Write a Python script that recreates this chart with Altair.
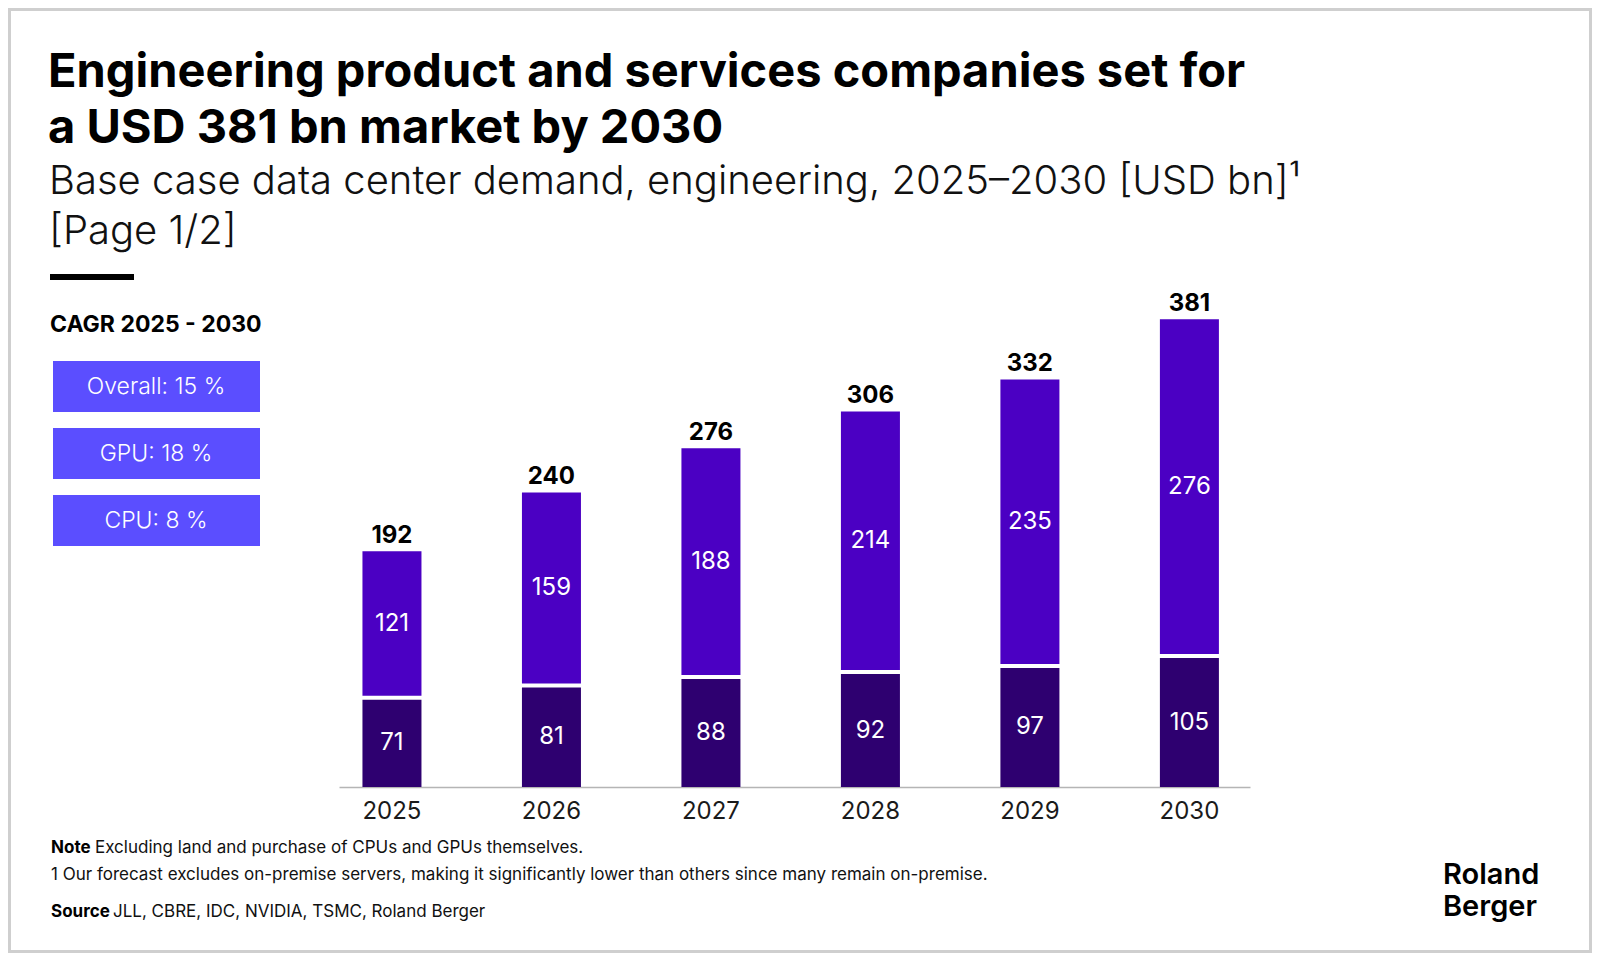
import altair as alt
import pandas as pd

# ---------------- data ----------------
years = ["2025", "2026", "2027", "2028", "2029", "2030"]
cpu = [71, 81, 88, 92, 97, 105]
gpu = [121, 159, 188, 214, 235, 276]
totals = [192, 240, 276, 306, 332, 381]

title_lines = ["Engineering product and services companies set for",
               "a USD 381 bn market by 2030"]
subtitle_lines = ["Base case data center demand, engineering, 2025\u20132030 [USD bn]\u00b9",
                  "[Page 1/2]"]
cagr_heading = ["CAGR 2025 - 2030"]
cagr_labels = ["Overall: 15 %", "GPU: 18 %", "CPU: 8 %"]
note_bold = ["Note", "Source"]
note_text = ["Excluding land and purchase of CPUs and GPUs themselves.",
             "JLL, CBRE, IDC, NVIDIA, TSMC, Roland Berger"]
footnote = ["1 Our forecast excludes on-premise servers, making it significantly lower than others since many remain on-premise."]
logo_lines = ["Roland", "Berger"]

# ---------------- style ----------------
FONT = "Inter"
CPU_C = "#2E0070"
GPU_C = "#4B00C3"
BOX_C = "#5B4EFF"
W, H = 911, 491
PL, PT = 331, 288           # plot origin inside the chart
TOTAL_W, TOTAL_H = 1584, 945

df = pd.DataFrame({"year": years, "cpu": cpu, "gpu": gpu, "total": totals})
df["cpu_mid"] = df["cpu"] / 2
df["gpu_mid"] = df["cpu"] + df["gpu"] / 2

xenc = alt.X("year:N",
             scale=alt.Scale(paddingInner=0.63, paddingOuter=0.171, align=0.43),
             axis=alt.Axis(title=None, labelAngle=0, labelFontSize=24, labelFont=FONT,
                           labelColor="#1a1a1a", labelPadding=12, ticks=False,
                           domainColor="#b5b5b5", domainWidth=1.5, grid=False))
yscale = alt.Scale(domain=[0, 400])

base = alt.Chart(df)
cpu_bar = base.mark_bar(color=CPU_C).encode(
    x=xenc, y=alt.Y("cpu:Q", scale=yscale, axis=None))
gpu_bar = base.mark_bar(color=GPU_C, y2Offset=-4).encode(
    x=xenc, y=alt.Y("total:Q", scale=yscale, axis=None), y2="cpu:Q")
cpu_txt = base.mark_text(color="white", font=FONT, fontSize=24, baseline="middle").encode(
    x=xenc, y=alt.Y("cpu_mid:Q", scale=yscale), text="cpu:Q")
gpu_txt = base.mark_text(color="white", font=FONT, fontSize=24, baseline="middle", dy=-2).encode(
    x=xenc, y=alt.Y("gpu_mid:Q", scale=yscale), text="gpu:Q")
tot_txt = base.mark_text(color="#000000", font=FONT, fontSize=24, fontWeight="bold",
                         baseline="alphabetic", dy=-8).encode(
    x=xenc, y=alt.Y("total:Q", scale=yscale), text="total:Q")


def px(X):   # page x -> plot x
    return X - 8 - PL


def py(Y):   # page y -> plot y
    return Y - 8 - PT


def text_layer(lines, X, Y, step, **kw):
    d = pd.DataFrame({"t": lines, "i": list(range(len(lines)))})
    return alt.Chart(d).transform_calculate(
        yy=f"{py(Y)} + datum.i * {step}"
    ).mark_text(align="left", baseline="alphabetic", font=FONT, **kw).encode(
        x=alt.value(px(X)), y=alt.Y("yy:Q", scale=None), text="t:N")


title_l = text_layer(title_lines, 48, 87, 56, fontSize=47, fontWeight="bold", color="#000000")
sub_l = text_layer(subtitle_lines, 49, 194, 50, fontSize=40, fontWeight=300, color="#111111")

bar_dec = alt.Chart(pd.DataFrame({"a": [0]})).mark_rect(color="#000000").encode(
    x=alt.value(px(50)), x2=alt.value(px(134)), y=alt.value(py(274)), y2=alt.value(py(280)))

cagr_h = text_layer(cagr_heading, 50, 332, 0, fontSize=23, fontWeight="bold", color="#000000")

box_df = pd.DataFrame({"t": cagr_labels, "i": list(range(len(cagr_labels)))})
boxes = alt.Chart(box_df).transform_calculate(
    y0=f"{py(361)} + datum.i * 67", y1=f"{py(412)} + datum.i * 67"
).mark_rect(color=BOX_C).encode(
    x=alt.value(px(53)), x2=alt.value(px(260)),
    y=alt.Y("y0:Q", scale=None), y2="y1:Q")
box_txt = alt.Chart(box_df).transform_calculate(
    yy=f"{py(387)} + datum.i * 67"
).mark_text(color="white", font=FONT, fontSize=23, fontWeight=300, baseline="middle", align="center").encode(
    x=alt.value(px(156)), y=alt.Y("yy:Q", scale=None), text="t:N")

nb = alt.Chart(pd.DataFrame({"t": note_bold, "i": [0, 1]})).transform_calculate(
    yy=f"{py(853)} + datum.i * 64"
).mark_text(align="left", baseline="alphabetic", font=FONT, fontSize=17, fontWeight="bold", color="#000000").encode(
    x=alt.value(px(51)), y=alt.Y("yy:Q", scale=None), text="t:N")
nt = alt.Chart(pd.DataFrame({"t": note_text, "i": [0, 1], "xo": [95, 113]})).transform_calculate(
    yy=f"{py(853)} + datum.i * 64", xx=f"datum.xo - {8 + PL}"
).mark_text(align="left", baseline="alphabetic", font=FONT, fontSize=17, color="#111111").encode(
    x=alt.X("xx:Q", scale=None), y=alt.Y("yy:Q", scale=None), text="t:N")
fn = text_layer(footnote, 51, 880, 0, fontSize=17, color="#111111")

logo = text_layer(logo_lines, 1443, 884, 32, fontSize=29, fontWeight=600, color="#000000")

border = alt.Chart(pd.DataFrame({"a": [0]})).mark_rect(
    fillOpacity=0, stroke="#cfcfcf", strokeWidth=3).encode(
    x=alt.value(-PL + 1.5), x2=alt.value(TOTAL_W - PL - 1.5),
    y=alt.value(-PT + 1.5), y2=alt.value(TOTAL_H - PT - 1.5))

chart = alt.layer(
    border, cpu_bar, gpu_bar, cpu_txt, gpu_txt, tot_txt,
    title_l, sub_l, bar_dec, cagr_h, boxes, box_txt, nb, nt, fn, logo
).properties(
    width=W, height=H,
    autosize=alt.AutoSizeParams(type="none"),
    padding={"left": PL, "top": PT, "right": TOTAL_W - PL - W, "bottom": TOTAL_H - PT - H},
).configure(font=FONT).configure_view(strokeWidth=0, stroke="transparent")

chart.save("out.html", embed_options={"renderer": "svg", "actions": False})
